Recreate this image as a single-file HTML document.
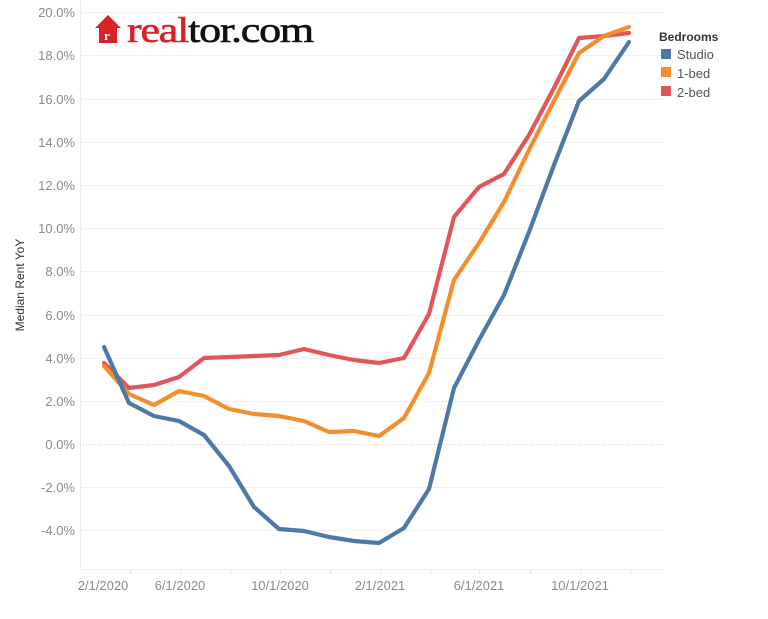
<!DOCTYPE html>
<html><head><meta charset="utf-8"><style>
body{margin:0;background:#fff;width:768px;height:614px;overflow:hidden;font-family:"Liberation Sans",sans-serif}
</style></head><body>
<svg width="768" height="614" xmlns="http://www.w3.org/2000/svg" font-family="Liberation Sans, sans-serif">
<g stroke="#efefef" stroke-width="1">
<line x1="80" x2="663" y1="12.5" y2="12.5"/><line x1="80" x2="663" y1="55.5" y2="55.5"/>
<line x1="80" x2="663" y1="99.5" y2="99.5"/><line x1="80" x2="663" y1="142.5" y2="142.5"/>
<line x1="80" x2="663" y1="185.5" y2="185.5"/><line x1="80" x2="663" y1="228.5" y2="228.5"/>
<line x1="80" x2="663" y1="271.5" y2="271.5"/><line x1="80" x2="663" y1="315.5" y2="315.5"/>
<line x1="80" x2="663" y1="358.5" y2="358.5"/><line x1="80" x2="663" y1="401.5" y2="401.5"/>
<line x1="80" x2="663" y1="487.5" y2="487.5"/><line x1="80" x2="663" y1="530.5" y2="530.5"/>
<line x1="80.5" x2="80.5" y1="0" y2="570"/>
<line x1="80" x2="663" y1="569.5" y2="569.5"/>
</g>
<line x1="80" x2="663" y1="444.5" y2="444.5" stroke="#ccc" stroke-dasharray="1,2"/>
<g stroke="#e6e6e6"><line x1="130.5" x2="130.5" y1="569" y2="574"/><line x1="180.5" x2="180.5" y1="569" y2="574"/><line x1="230.5" x2="230.5" y1="569" y2="574"/><line x1="280.5" x2="280.5" y1="569" y2="574"/><line x1="330.5" x2="330.5" y1="569" y2="574"/><line x1="380.5" x2="380.5" y1="569" y2="574"/><line x1="430.5" x2="430.5" y1="569" y2="574"/><line x1="479.5" x2="479.5" y1="569" y2="574"/><line x1="530.5" x2="530.5" y1="569" y2="574"/><line x1="580.5" x2="580.5" y1="569" y2="574"/><line x1="630.5" x2="630.5" y1="569" y2="574"/></g>
<g font-size="13" fill="#8a8a8a" text-anchor="end">
<text x="75" y="17">20.0%</text><text x="75" y="60">18.0%</text><text x="75" y="104">16.0%</text>
<text x="75" y="147">14.0%</text><text x="75" y="190">12.0%</text><text x="75" y="233">10.0%</text>
<text x="75" y="276">8.0%</text><text x="75" y="320">6.0%</text><text x="75" y="363">4.0%</text>
<text x="75" y="406">2.0%</text><text x="75" y="449">0.0%</text><text x="75" y="492">-2.0%</text>
<text x="75" y="535">-4.0%</text>
</g>
<g font-size="13" fill="#8a8a8a" text-anchor="middle">
<text x="103" y="590">2/1/2020</text><text x="180" y="590">6/1/2020</text><text x="280" y="590">10/1/2020</text>
<text x="380" y="590">2/1/2021</text><text x="479" y="590">6/1/2021</text><text x="580" y="590">10/1/2021</text>
</g>
<text transform="translate(24,285) rotate(-90)" font-size="12" fill="#333" text-anchor="middle">Median Rent YoY</text>
<g fill="none" stroke-width="4.2" stroke-linejoin="round" stroke-linecap="round">
<polyline stroke="#e15759" points="104,363 129,388 154,385 179,377 204,358 229,357 254,356 279,355 304,349 329,355 354,360 379,363 404,358 429,314 454,217 479,187 504,174 529,135 554,88 579,38 604,36 629,33"/>
<polyline stroke="#f28e2b" points="104,366 129,394 154,405 179,391 204,396 229,409 254,414 279,416 304,421 329,432 354,431 379,436 404,418 429,373 454,280 479,243 504,202 529,150 554,101 579,53 604,36 629,27"/>
<polyline stroke="#4e79a7" points="104,347 129,403 154,416 179,421 204,435 229,466 254,507 279,529 304,531 329,537 354,541 379,543 404,528 429,489 454,388 479,340 504,295 529,232 554,165 579,101 604,79 629,42"/>
</g>
<text x="659" y="41" font-size="12" font-weight="bold" fill="#333">Bedrooms</text>
<rect x="661" y="49" width="10" height="10" fill="#4e79a7"/><text x="677" y="59" font-size="13" fill="#555">Studio</text>
<rect x="661" y="67" width="10" height="10" fill="#f28e2b"/><text x="677" y="78" font-size="13" fill="#555">1-bed</text>
<rect x="661" y="86" width="10" height="10" fill="#e15759"/><text x="677" y="97" font-size="13" fill="#555">2-bed</text>
<g>
<path d="M95,28 L108,15 L121,28 L117,28 L117,43 L99,43 L99,28 Z" fill="#d92228"/>
<text x="104" y="40" font-size="13" font-family="Liberation Serif, serif" font-weight="bold" fill="#fff">r</text>
<text x="127" y="42" font-size="36" font-family="Liberation Serif, serif" fill="#d92228" stroke="#d92228" stroke-width="0.6" letter-spacing="-1" textLength="186" lengthAdjust="spacingAndGlyphs">real<tspan fill="#111" stroke="#111">tor.com</tspan></text>
</g>
</svg>
</body></html>
